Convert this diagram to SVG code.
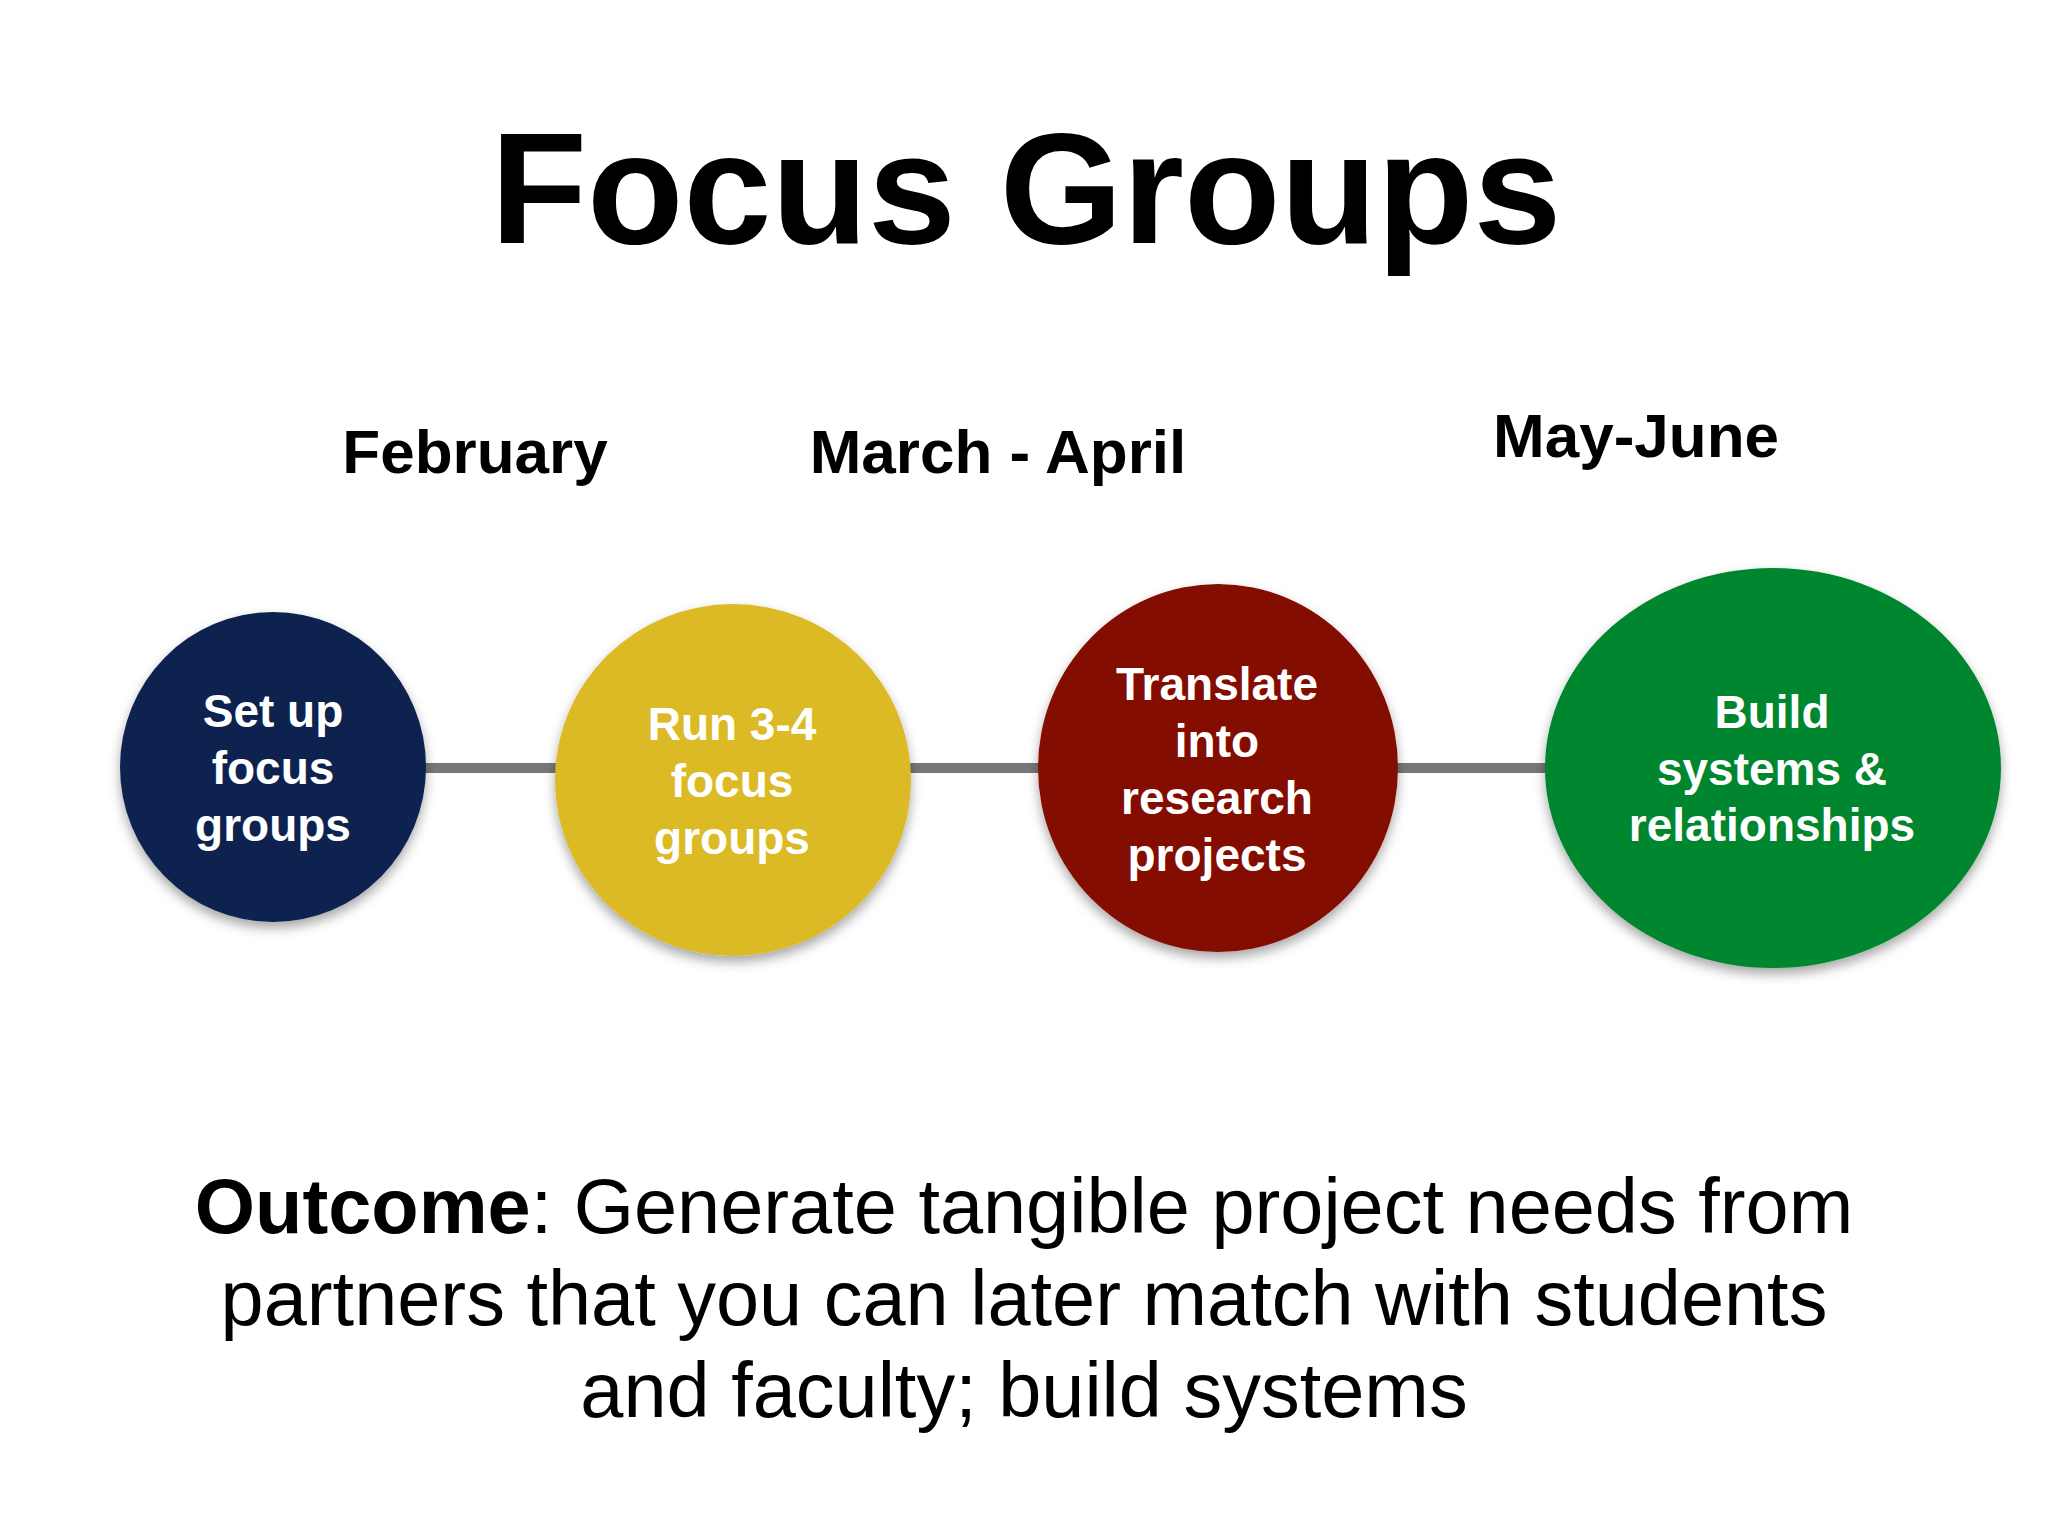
<svg xmlns="http://www.w3.org/2000/svg" width="2048" height="1536" viewBox="0 0 2048 1536">
<defs>
<filter id="sh" x="-20%" y="-20%" width="140%" height="150%">
<feDropShadow dx="0" dy="6" stdDeviation="6" flood-color="#000" flood-opacity="0.35"/>
</filter>
<style>
.title{font-family:"Liberation Sans",Arial,sans-serif;font-weight:bold;font-size:158px;fill:#000;text-anchor:middle}
.month{font-family:"Liberation Sans",Arial,sans-serif;font-weight:bold;font-size:62px;fill:#000;text-anchor:middle}
.node text{font-family:"Liberation Sans",Arial,sans-serif;font-weight:bold;font-size:46px;fill:#fff;text-anchor:middle}
.node ellipse{filter:url(#sh)}
.conn line{stroke:#777;stroke-width:10}
.out{font-family:"Liberation Sans",Arial,sans-serif;font-size:77.5px;fill:#000;text-anchor:middle}
</style>
</defs>
<rect width="2048" height="1536" fill="#fff"/>
<text class="title" x="1026" y="243">Focus Groups</text>
<text class="month" x="475" y="473">February</text>
<text class="month" x="998" y="473">March - April</text>
<text class="month" x="1636" y="457">May-June</text>
<g id="connectors" class="conn">
<line x1="420" y1="768" x2="560" y2="768"/>
<line x1="906" y1="768" x2="1044" y2="768"/>
<line x1="1392" y1="768" x2="1550" y2="768"/>
</g>
<g id="node1" class="node">
<ellipse cx="273" cy="767" rx="153" ry="155" fill="#0c2350"/>
<text x="273" y="727">Set up</text>
<text x="273" y="784">focus</text>
<text x="273" y="841">groups</text>
</g>
<g id="node2" class="node">
<ellipse cx="733" cy="780" rx="178" ry="176" fill="#dbba25"/>
<text x="732" y="740">Run 3-4</text>
<text x="732" y="797">focus</text>
<text x="732" y="854">groups</text>
</g>
<g id="node3" class="node">
<ellipse cx="1218" cy="768" rx="180" ry="184" fill="#831006"/>
<text x="1217" y="700">Translate</text>
<text x="1217" y="757">into</text>
<text x="1217" y="814">research</text>
<text x="1217" y="871">projects</text>
</g>
<g id="node4" class="node">
<ellipse cx="1773" cy="768" rx="228" ry="200" fill="#05862f"/>
<text x="1772" y="728">Build</text>
<text x="1772" y="785">systems &amp;</text>
<text x="1772" y="841">relationships</text>
</g>
<text class="out" x="1024" y="1233"><tspan font-weight="bold">Outcome</tspan>: Generate tangible project needs from</text>
<text class="out" x="1024" y="1325">partners that you can later match with students</text>
<text class="out" x="1024" y="1417">and faculty; build systems</text>
</svg>
